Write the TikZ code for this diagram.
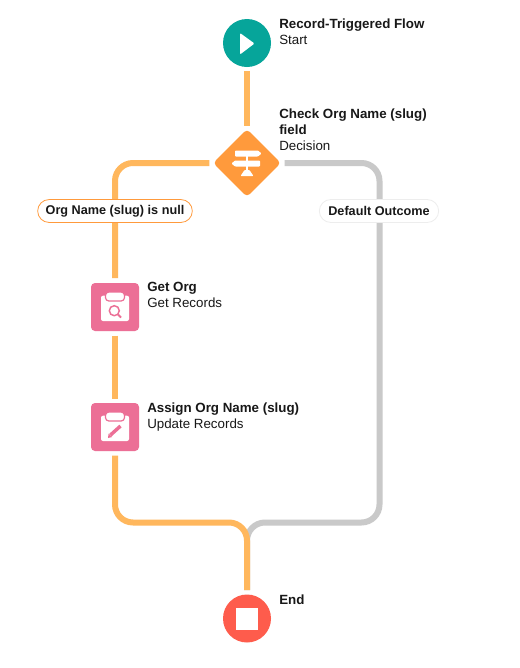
\documentclass[tikz,border=0pt]{standalone}
\usepackage{fontspec}
\setmainfont{Liberation Sans}
\usetikzlibrary{shapes.geometric}
\definecolor{flowline}{HTML}{FFB75D}
\definecolor{otherline}{HTML}{C9C9C9}
\definecolor{startcol}{HTML}{06A59A}
\definecolor{deccol}{HTML}{FF9A3C}
\definecolor{reccol}{HTML}{EC6F96}
\definecolor{endcol}{HTML}{FE5C4C}
\definecolor{inkcol}{HTML}{181818}
\definecolor{pillgrey}{HTML}{EDEDED}
\newcommand{\lblstrut}{\rule{0pt}{7.5pt}}
\tikzset{
  x=0.75pt,y=-0.75pt,
  roundicon/.style={circle,minimum size=36pt,inner sep=0pt,fill=#1},
  recbox/.style={rectangle,minimum size=36pt,inner sep=0pt,fill=reccol,rounded corners=3pt},
  decbox/.style={diamond,aspect=1,minimum size=51pt,inner sep=0pt,fill=deccol,rounded corners=3pt},
  conn/.style={line width=4.5pt,rounded corners=13.5pt,line cap=butt},
  lbl/.style={anchor=north west,inner sep=0pt,align=left,text=inkcol,font=\fontsize{10pt}{12pt}\selectfont},
  pill/.style={rectangle,rounded corners=8.6pt,minimum height=17.2pt,inner sep=0pt,fill=white,text=inkcol,font=\fontsize{9.5pt}{11pt}\selectfont\bfseries},
  clipboard/.pic={
    \fill[white,rounded corners=1.5pt] (-14,-11.3) rectangle (14,14);
    \fill[white,draw=reccol,line width=0.9pt,rounded corners=2.5pt] (-9.5,-15) rectangle (9.5,-6);
  }
}
\begin{document}
\begin{tikzpicture}
\useasboundingbox (0,0) rectangle (519,668);
\fill[white] (0,0) rectangle (519,668);
% icons
\node[roundicon=startcol] (start) at (247,43) {};
\node[decbox] (dec) at (247,163) {};
\node[recbox] (get) at (115,307) {};
\node[recbox] (assign) at (115,427) {};
\node[roundicon=endcol] (stop) at (247,618.5) {};
% free coordinates of the routes
\coordinate (tr) at (379.5,163);
\coordinate (br) at (379.5,522.5);
\coordinate (merge) at (247,522.5);
% connectors
\draw[conn,otherline,shorten <=2.5pt,shorten >=3pt] (dec.east) -- (tr) -- (br) -- (merge) -- (stop.north);
\draw[conn,flowline,shorten <=2.8pt,shorten >=2.3pt] (start.south) -- (dec.north);
\draw[conn,flowline,shorten <=2.6pt,shorten >=3.5pt] (dec.west) -| (get.north);
\draw[conn,flowline,shorten <=3.3pt,shorten >=3pt] (get.south) -- (assign.north);
\draw[conn,flowline,shorten <=3.3pt,shorten >=3pt] (assign.south) |- (merge) -- (stop.north);
% start glyph
\fill[white,rounded corners=0.8pt] (240,33) -- (254.5,43.5) -- (240,54.5) -- cycle;
% decision glyph
\fill[white,rounded corners=0.6pt] (235,150.5) -- (258,150.5) -- (261.5,153.5) -- (258,156.5) -- (235,156.5) -- cycle;
\fill[white,rounded corners=0.6pt] (260,160.5) -- (235,160.5) -- (231.5,163.5) -- (235,166.5) -- (260,166.5) -- cycle;
\fill[white] (246,156) rectangle (248,171);
\fill[white,rounded corners=0.6pt] (244.5,170) -- (249.5,170) -- (253.5,176) -- (240.5,176) -- cycle;
% record glyphs
\pic at (get) {clipboard};
\draw[reccol,line width=1.1pt] (114.3,310.7) circle (5);
\draw[reccol,line width=1.5pt] (118,314.5) -- (121,317.5);
\pic at (assign) {clipboard};
\draw[reccol,line width=2.6pt] (110.5,435) -- (120.5,426);
\fill[reccol] (108,438) -- (108.6,433.6) -- (112.2,437) -- cycle;
% end glyph
\fill[white] (235.7,607.5) rectangle (258.3,630);
% pills
\node[pill,draw=deccol,line width=0.6pt,minimum width=116pt] (yes) at (115,211) {Org Name (slug) is null};
\node[pill,draw=pillgrey,line width=0.6pt,minimum width=89.5pt] (no) at (379,211) {Default Outcome};
% labels
\node[lbl] (startlbl) at (279,18.3) {\lblstrut\textbf{Record-Triggered Flow}\\Start};
\node[lbl] (declbl) at (279,108.3) {\lblstrut\textbf{Check Org Name (slug)}\\\textbf{field}\\Decision};
\node[lbl] (getlbl) at (147,281.7) {\lblstrut\textbf{Get Org}\\Get Records};
\node[lbl] (assignlbl) at (147,402) {\lblstrut\textbf{Assign Org Name (slug)}\\Update Records};
\node[lbl] (stoplbl) at (279,594) {\lblstrut\textbf{End}};
\end{tikzpicture}
\end{document}
